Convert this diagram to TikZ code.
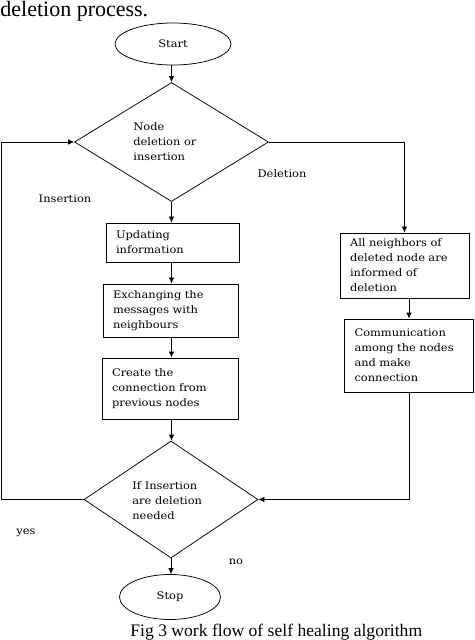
\documentclass[tikz,border=0pt]{standalone}
\usepackage{fontspec}
\setmainfont{Liberation Serif}
\newfontfamily\diagfont{DejaVu Serif}[FakeStretch=1.1]
\usetikzlibrary{shapes.geometric,arrows.meta}
\begin{document}
\begin{tikzpicture}[x=1pt,y=-1pt,line width=0.75pt,
  arr/.style={-{Latex[length=6pt,width=5.5pt]}},
  dfont/.style={font=\diagfont\fontsize{10.4}{15}\selectfont},
  proc/.style={draw,rectangle,line width=0.9pt,inner xsep=10pt,inner ysep=0pt,align=left,dfont},
  decision/.style={draw,diamond,inner sep=0pt},
  term/.style={draw,ellipse,inner sep=0pt,dfont},
  txt/.style={inner sep=0pt,align=left,dfont},
  captext/.style={inner sep=0pt,anchor=base west}]
\useasboundingbox (0,0) rectangle (474,640);
% captions
\node[captext,font=\fontsize{22}{24}\selectfont] (c1) at (0,16) {deletion process.};
\node[captext,font=\fontsize{17.6}{20}\selectfont] (c2) at (130,636) {Fig 3 work flow of self healing algorithm};
% shapes
\node[term,minimum width=116pt,minimum height=42pt] (start) at (173,44) {Start};
\node[decision,minimum width=194pt,minimum height=119pt] (d1) at (171.5,142) {};
\node[txt,anchor=west] (d1t) at (133,141.5) {Node\\deletion or\\insertion};
\node[proc,text width=113pt,minimum height=39pt] (b1) at (172.5,242.5) {Updating\\information};
\node[proc,text width=115pt,minimum height=53pt] (b2) at (170.5,310.5) {Exchanging the\\messages with\\neighbours};
\node[proc,text width=116pt,minimum height=61pt] (b3) at (170,388.5) {Create the\\connection from\\previous nodes};
\node[proc,text width=109pt,minimum height=65pt] (rb1) at (404.5,265.5) {All neighbors of\\deleted node are\\informed of\\deletion};
\node[proc,text width=109pt,minimum height=73pt] (rb2) at (409,355.5) {Communication\\among the nodes\\and make\\connection};
\node[decision,minimum width=174pt,minimum height=117pt] (d2) at (171,499.5) {};
\node[txt,anchor=west] (d2t) at (132,501) {If Insertion\\are deletion\\needed};
\node[term,minimum width=101pt,minimum height=45pt] (stop) at (170,597) {Stop};
% labels
\node[txt] (ldel) at (282,174) {Deletion};
\node[txt] (lins) at (65,199) {Insertion};
\node[txt] (lyes) at (26,533) {yes};
\node[txt] (lno) at (236,562) {no};
% connectors
\coordinate (lp) at (1,0);
\draw[arr] (start.south -| d1.north) -- (d1.north);
\draw[arr] (d1.south) -- (d1.south |- b1.north);
\draw[arr] (b1.south -| d1.south) -- (b2.north -| d1.south);
\draw[arr] (b2.south -| d1.south) -- (b3.north -| d1.south);
\draw[arr] (b3.south -| d1.south) -- (d2.north -| d1.south);
\draw[arr] (d2.south) -- (d2.south |- stop.north);
\draw[arr] (d1.east) -| (rb1.north);
\draw[arr] (rb1.south -| rb2.north) -- (rb2.north);
\draw[arr] (rb2.south) |- (d2.east);
\draw[arr] (d2.west) -- (d2.west -| lp) -- (d1.west -| lp) -- (d1.west);
\end{tikzpicture}
\end{document}
